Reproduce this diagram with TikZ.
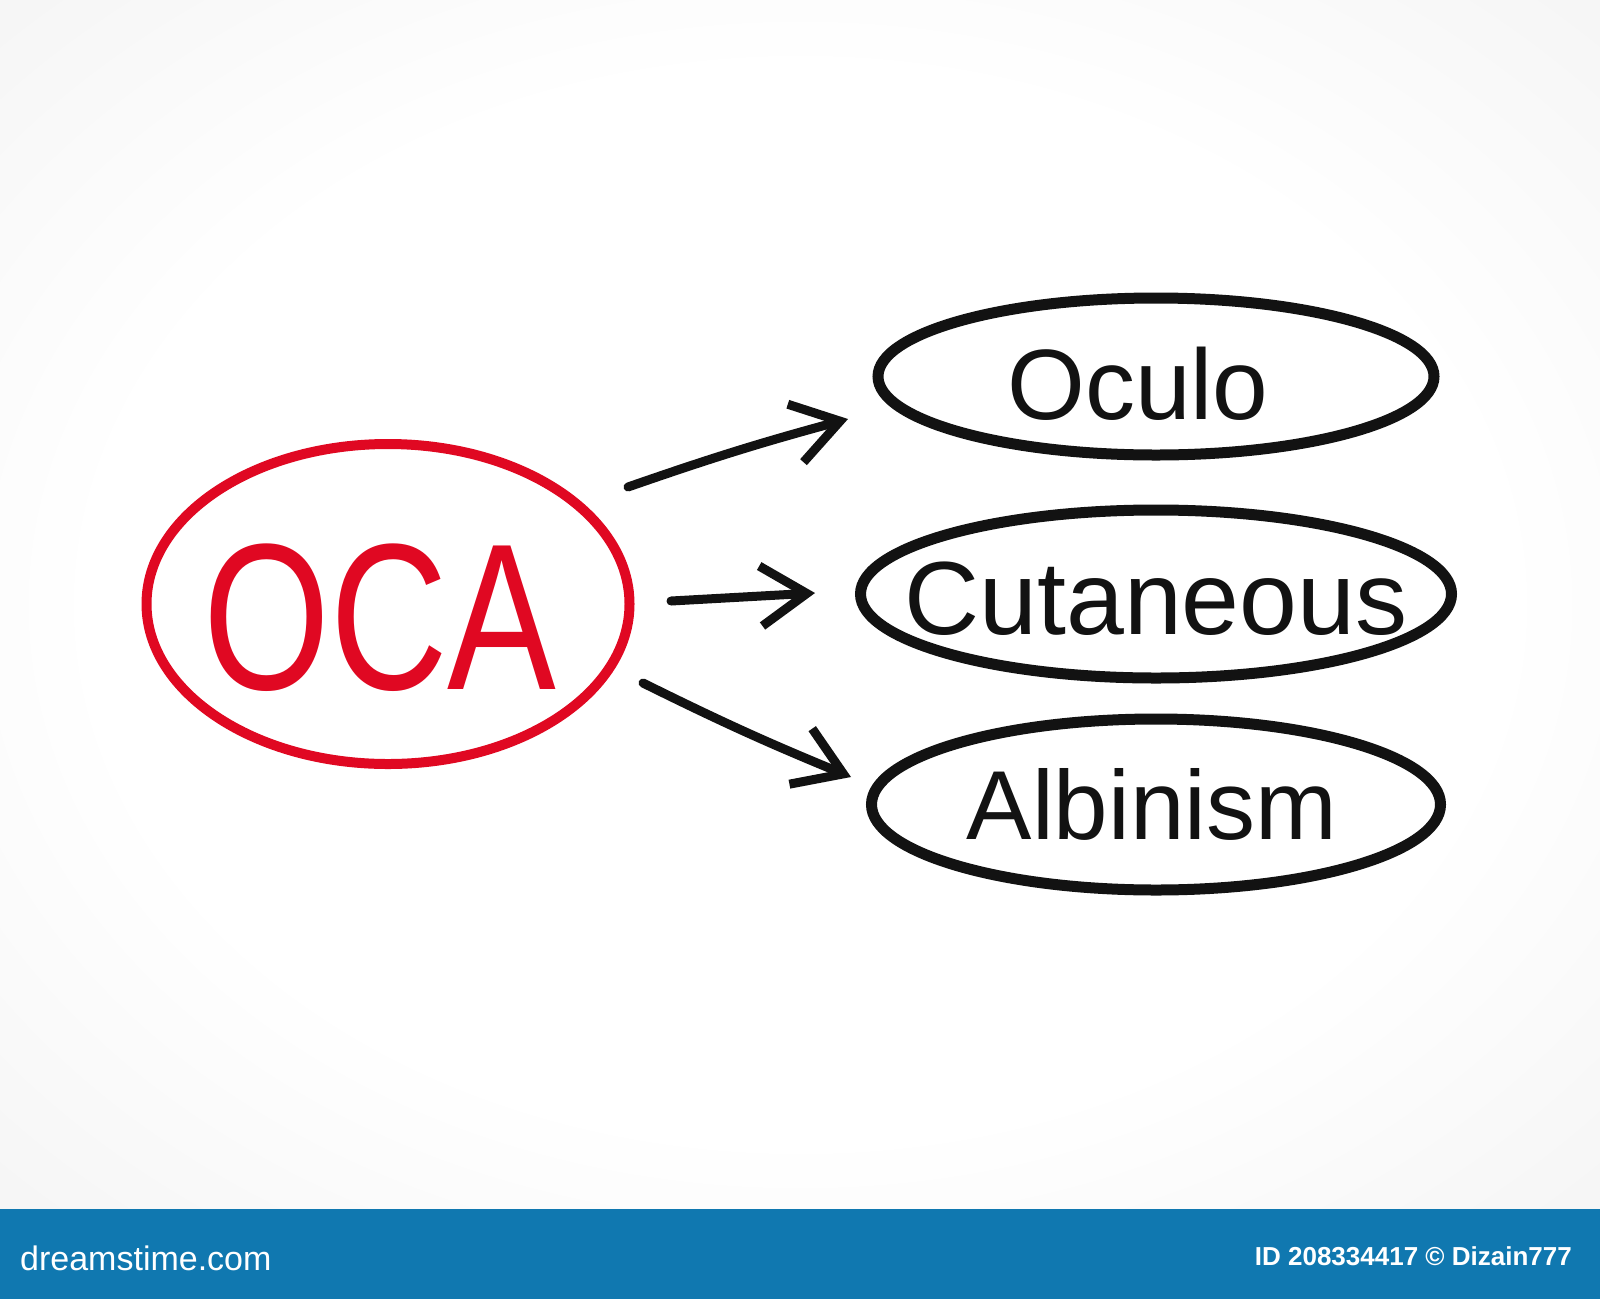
\documentclass[tikz,border=0pt]{standalone}
\usepackage{fontspec}
\setmainfont{Liberation Sans}
\usepackage{tikz}
\usetikzlibrary{arrows.meta,positioning,shapes.geometric}
\definecolor{ocared}{RGB}{224,8,34}
\definecolor{ink}{RGB}{18,18,18}
\definecolor{barblue}{RGB}{16,120,176}
\pgfdeclareradialshading{paper}{\pgfpoint{0bp}{0bp}}{color(0bp)=(white); color(22bp)=(white); color(40bp)=(black!5); color(55bp)=(black!9); color(72bp)=(black!10)}
\tikzset{
    %Define standard arrow tip
    >={Straight Barb[length=46pt,width=60pt]},
    %Define style for ovals
    acro/.style={
           ellipse,
           draw=ocared, line width=10pt,
           inner sep=0pt,
           minimum width=483pt,
           minimum height=320pt},
    main node/.style={
           ellipse,
           draw=ink, line width=11pt,
           inner sep=0pt},
    word/.style={
           text=ink,
           inner sep=0pt},
    % Define arrow style
    pil/.style={
           ->,
           draw=ink,
           line width=9pt,
           line cap=round},
    footer/.style={
           text=white,
           inner sep=0pt}
}
\begin{document}
\begin{tikzpicture}[x=1pt,y=-1pt]
\useasboundingbox (0,0) rectangle (1600,1299);
 %background
\shade[shading=paper] (0,0) rectangle (1600,1209);
\fill[barblue] (0,1209) rectangle (1600,1299);
 %nodes
\node[acro, label={[word, text=ocared, xshift=-8pt, yshift=-14pt, font=\fontsize{163}{163}\selectfont]center:\scalebox{1}[1.28]{OCA}}](0) at (388,604){};
\node[main node, minimum width=591pt, minimum height=168pt,
  label={[word, yshift=-5pt, font=\fontsize{104}{104}\selectfont]center:Cutaneous}](2) at (1156,594){};
\node[main node, minimum width=556pt, minimum height=157pt, above=44pt of 2,
  label={[word, xshift=-18pt, yshift=-7pt, font=\fontsize{100}{100}\selectfont]center:Oculo}](1){};
\node[main node, minimum width=569pt, minimum height=171pt, below=30pt of 2,
  label={[word, xshift=-4pt, font=\fontsize{98}{98}\selectfont]center:Albinism}](3){};
 %arrows
\coordinate (s1) at (628,487);
\coordinate (e1) at (848,419);
\coordinate (s2) at (671,601);
\coordinate (e2) at (815,593);
\coordinate (s3) at (643,683);
\coordinate (e3) at (851,777);
\draw[pil] (s1) to[bend left=2] (e1);
\draw[pil] (s2) -- (e2);
\draw[pil] (s3) to[bend right=2] (e3);
 %footer
\node[footer, anchor=west, font=\fontsize{34}{34}\selectfont](logo) at (20,1258){dreamstime.com};
\node[footer, anchor=east, font=\bfseries\fontsize{26}{26}\selectfont](credit) at (1572,1256){ID 208334417 © Dizain777};
\end{tikzpicture}
\end{document}
